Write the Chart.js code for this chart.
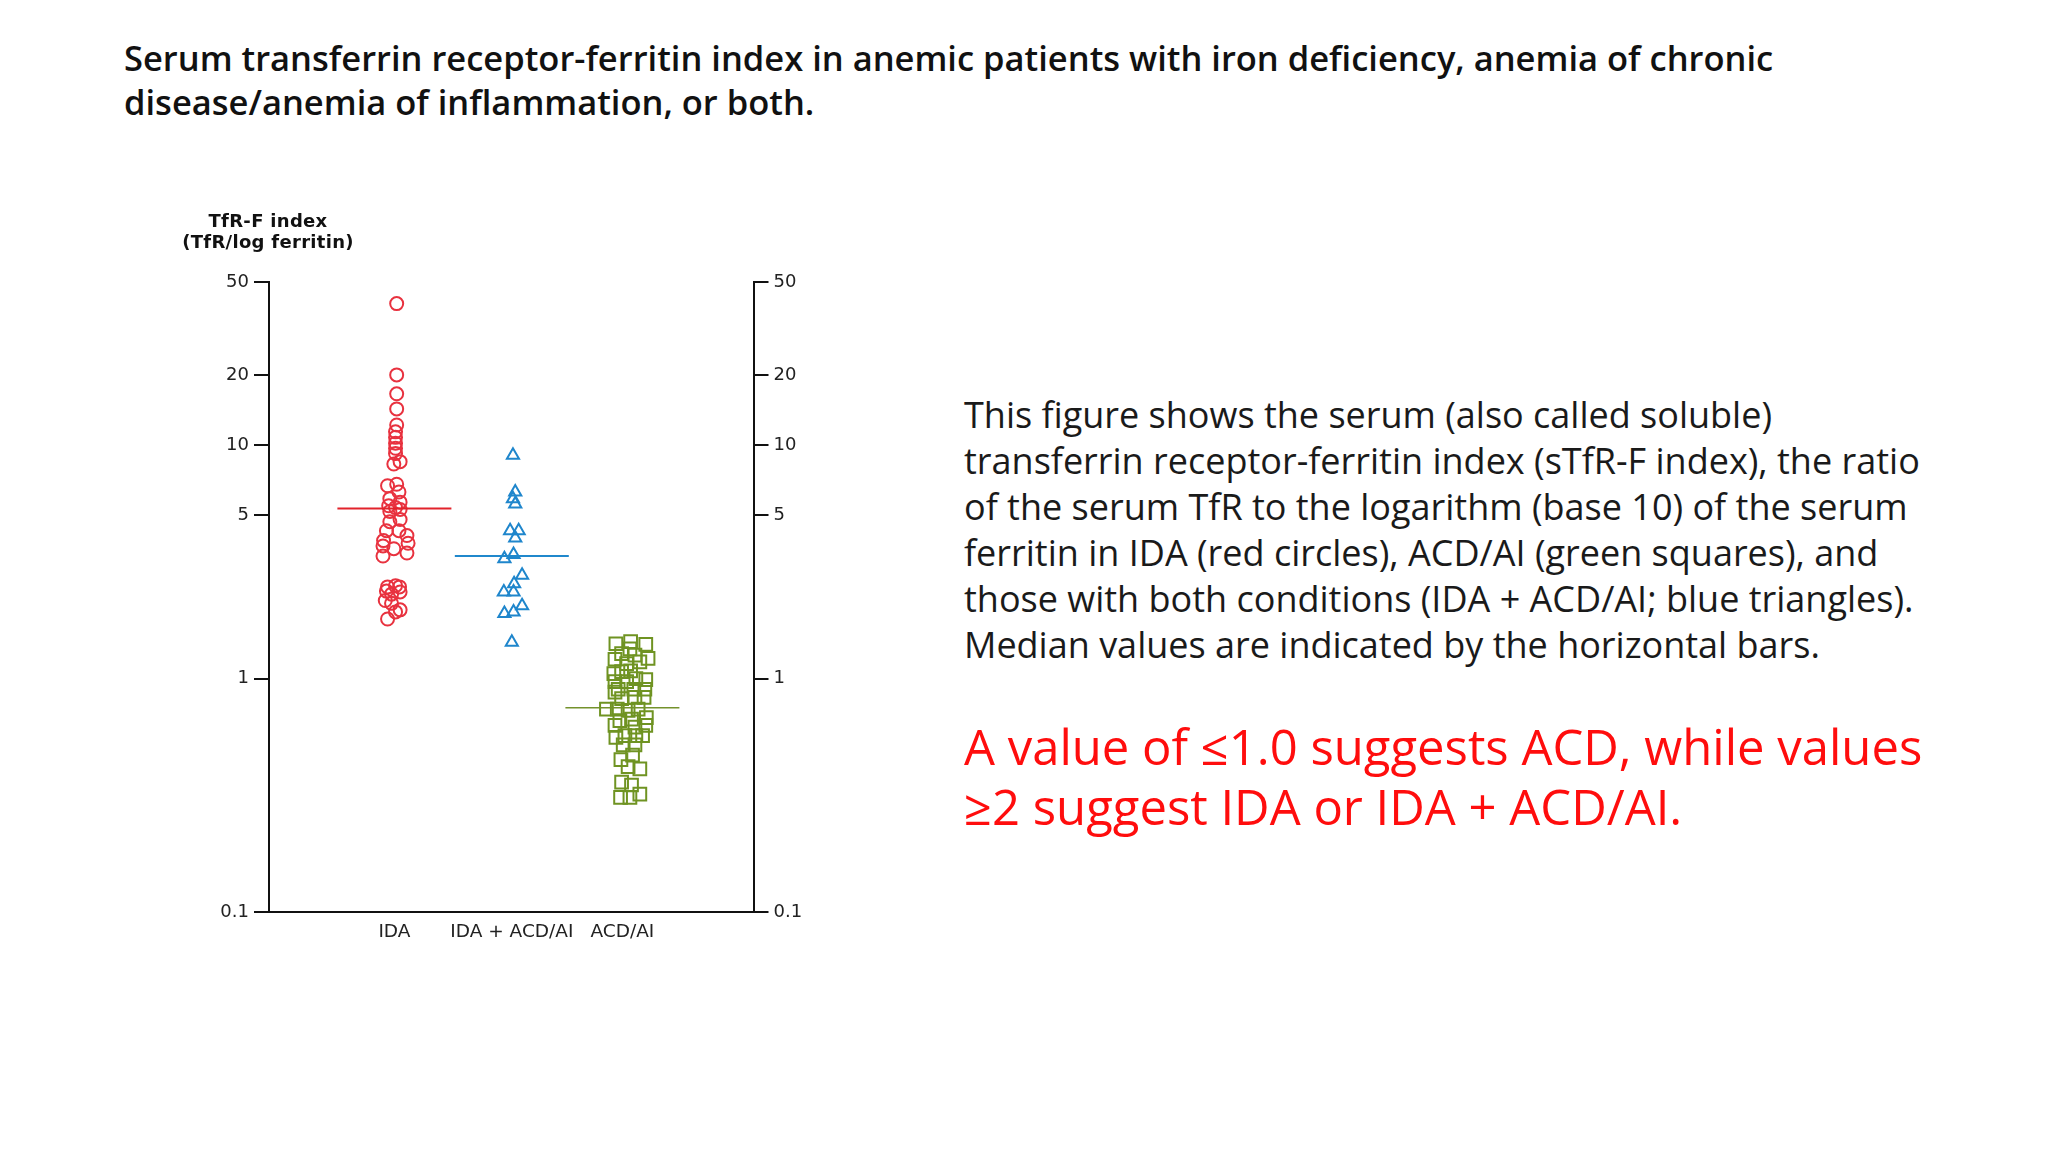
<!DOCTYPE html>
<html>
<head>
<meta charset="utf-8">
<script src="https://cdn.jsdelivr.net/npm/chart.js@4.4.1/dist/chart.umd.min.js"></script>
<style>
  html, body { margin: 0; padding: 0; background: #fff; }
  body { width: 2048px; height: 1152px; position: relative; overflow: hidden; font-family: "Open Sans", sans-serif; }
  #title { position: absolute; left: 124px; top: 36px; font-size: 34.5px; font-weight: 600; line-height: 44px; color: #111; white-space: nowrap; }
  #wrap { position: absolute; left: 170px; top: 200px; width: 660px; height: 760px; }
  #yTitle { position: absolute; left: 0; top: 10px; width: 196px; text-align: center; font-family: "DejaVu Sans", sans-serif; font-weight: bold; font-size: 18px; line-height: 21px; color: #111; letter-spacing: 0.3px; }
  #desc { position: absolute; left: 964px; top: 392px; font-size: 36px; line-height: 46px; color: #1a1a1a; white-space: nowrap; }
  #note { position: absolute; left: 964px; top: 716px; font-size: 49px; line-height: 60px; color: #ff0d0d; white-space: nowrap; }
</style>
</head>
<body>
<div id="title">Serum transferrin receptor-ferritin index in anemic patients with iron deficiency, anemia of chronic<br>disease/anemia of inflammation, or both.</div>

<div id="wrap">
  <canvas id="chart" width="660" height="760"></canvas>
  <div id="yTitle">TfR-F index<br>(TfR/log ferritin)</div>
</div>

<div id="desc">This figure shows the serum (also called soluble)<br>transferrin receptor-ferritin index (sTfR-F index), the ratio<br>of the serum TfR to the logarithm (base 10) of the serum<br>ferritin in IDA (red circles), ACD/AI (green squares), and<br>those with both conditions (IDA + ACD/AI; blue triangles).<br>Median values are indicated by the horizontal bars.</div>

<div id="note">A value of ≤1.0 suggests ACD, while values<br>≥2 suggest IDA or IDA + ACD/AI.</div>

<script>
// categories on the x axis and where they sit
const categories = ['IDA', 'IDA + ACD/AI', 'ACD/AI'];
const catPos = [1, 2.03, 3];
const yTicks = [0.1, 1, 5, 10, 20, 50];
const medians = [5.35, 3.35, 0.75];

// IDA - red circles (value, small horizontal scatter)
const idaValues = [40.4, 20.0, 16.6, 14.3, 12.2, 11.4, 10.8, 10.2, 9.7, 9.2, 8.3, 8.5,
    6.7, 6.8, 6.3, 5.9, 5.7, 5.5, 5.4, 5.3, 5.2, 4.8, 4.7, 4.3, 4.3, 3.9, 4.1, 3.8,
    3.6, 3.7, 3.35, 3.45, 2.47, 2.5, 2.47, 2.37, 2.35, 2.3, 2.16, 2.1, 1.97, 1.93, 1.8];
const idaJitter = [0.02, 0.02, 0.02, 0.02, 0.02, 0.01, 0.01, 0.01, 0.01, 0.01, -0.005, 0.05,
    -0.06, 0.02, 0.04, -0.04, 0.05, -0.05, 0.01, 0.05, -0.04, 0.05, -0.04, 0.04, -0.07, -0.095, 0.11, 0.12,
    -0.005, -0.1, -0.1, 0.11, -0.06, 0.01, 0.045, -0.07, 0.05, -0.025, -0.08, -0.025, 0.05, 0.01, -0.06];

// IDA + ACD/AI - blue triangles
const bothValues = [9.05, 6.3, 5.9, 5.6, 4.3, 4.3, 4.0, 3.4, 3.26, 2.77, 2.55, 2.35, 2.35, 2.05, 1.9, 1.93, 1.43];
const bothJitter = [0.01, 0.03, 0.01, 0.03, -0.015, 0.06, 0.03, 0.015, -0.065, 0.09, 0.02, -0.07, 0.015, 0.09, -0.065, 0.015, 0.0];

// ACD/AI - green squares
const acdValues = [1.41, 1.44, 1.40, 1.28, 1.26, 1.22, 1.21, 1.34, 1.18, 1.16,
    1.05, 1.07, 1.08, 0.99, 0.97, 0.97, 1.00, 0.90, 0.90, 0.90, 0.82, 0.83, 0.83, 0.875,
    0.74, 0.74, 0.73, 0.74, 0.68, 0.66, 0.63, 0.62, 0.63, 0.67,
    0.56, 0.57, 0.57, 0.57, 0.52, 0.52, 0.45, 0.47, 0.42, 0.41, 0.36, 0.35, 0.31, 0.32, 0.31];
const acdJitter = [-0.057, 0.072, 0.205, -0.007, 0.11, 0.225, -0.065, 0.066, 0.153, 0.037,
    -0.075, -0.007, 0.072, 0.205, -0.065, 0.037, 0.118, -0.037, 0.10, 0.197, -0.007, 0.11, 0.19, -0.065,
    -0.14, -0.045, 0.05, 0.138, 0.21, -0.022, -0.065, 0.11, 0.205, 0.08,
    -0.057, 0.022, 0.118, 0.177, 0.007, 0.11, -0.013, 0.089, 0.05, 0.153, -0.007, 0.08, -0.016, 0.153, 0.066];

const RED = '#e8323f', BLUE = '#1f86cc', GREEN = '#6f9322';

function points(vals, jit, c) {
    return vals.map((v, i) => ({ x: c + jit[i], y: v }));
}
function medianLine(i) {
    return [{ x: catPos[i] - 0.5, y: medians[i] }, { x: catPos[i] + 0.5, y: medians[i] }];
}

const tickFont = { family: 'DejaVu Sans', size: 18 };

function yAxis(pos, w) {
    return {
        type: 'logarithmic',
        position: pos,
        min: 0.1,
        max: 50,
        afterBuildTicks: s => { s.ticks = yTicks.map(v => ({ value: v })); },
        afterFit: s => { s.width = w; },
        ticks: { callback: v => String(v), font: tickFont, color: '#222', padding: 5, autoSkip: false },
        grid: { drawOnChartArea: false, drawTicks: true, tickLength: 15, color: '#111', lineWidth: 2 },
        border: { display: true, color: '#111', width: 2 }
    };
}

new Chart(document.getElementById('chart'), {
    type: 'scatter',
    data: {
        datasets: [
            { data: medianLine(0), showLine: true, pointRadius: 0, borderColor: '#e2232b', borderWidth: 2, order: 0 },
            { data: medianLine(1), showLine: true, pointRadius: 0, borderColor: '#2088cc', borderWidth: 2, order: 0 },
            { data: medianLine(2), showLine: true, pointRadius: 0, borderColor: '#74922c', borderWidth: 1.6, order: 0 },
            { data: points(idaValues, idaJitter, catPos[0]), pointStyle: 'circle', pointRadius: 6.5, borderWidth: 2,
              borderColor: RED, backgroundColor: 'rgba(0,0,0,0)', order: 1 },
            { data: points(bothValues, bothJitter, catPos[1]), pointStyle: 'triangle', pointRadius: 7, borderWidth: 2,
              borderColor: BLUE, backgroundColor: 'rgba(0,0,0,0)', order: 1 },
            { data: points(acdValues, acdJitter, catPos[2]), pointStyle: 'rect', pointRadius: 9, borderWidth: 2,
              borderColor: GREEN, backgroundColor: 'rgba(0,0,0,0)', order: 1 }
        ]
    },
    options: {
        responsive: false,
        animation: false,
        layout: { padding: { top: 82, left: 0, right: 0, bottom: 0 } },
        plugins: { legend: { display: false }, tooltip: { enabled: false } },
        scales: {
            x: {
                type: 'linear',
                min: -0.1,
                max: 4.15,
                afterBuildTicks: s => { s.ticks = catPos.map(v => ({ value: v })); },
                afterFit: s => { s.height = 48; },
                ticks: { callback: (v, i) => categories[i], font: { family: 'DejaVu Sans', size: 18.5 }, color: '#222', padding: 9, autoSkip: false, maxRotation: 0 },
                grid: { display: false, drawTicks: false },
                border: { display: true, color: '#111', width: 2 }
            },
            y: yAxis('left', 99),
            y2: yAxis('right', 76.5)
        }
    }
});
</script>
</body>
</html>
